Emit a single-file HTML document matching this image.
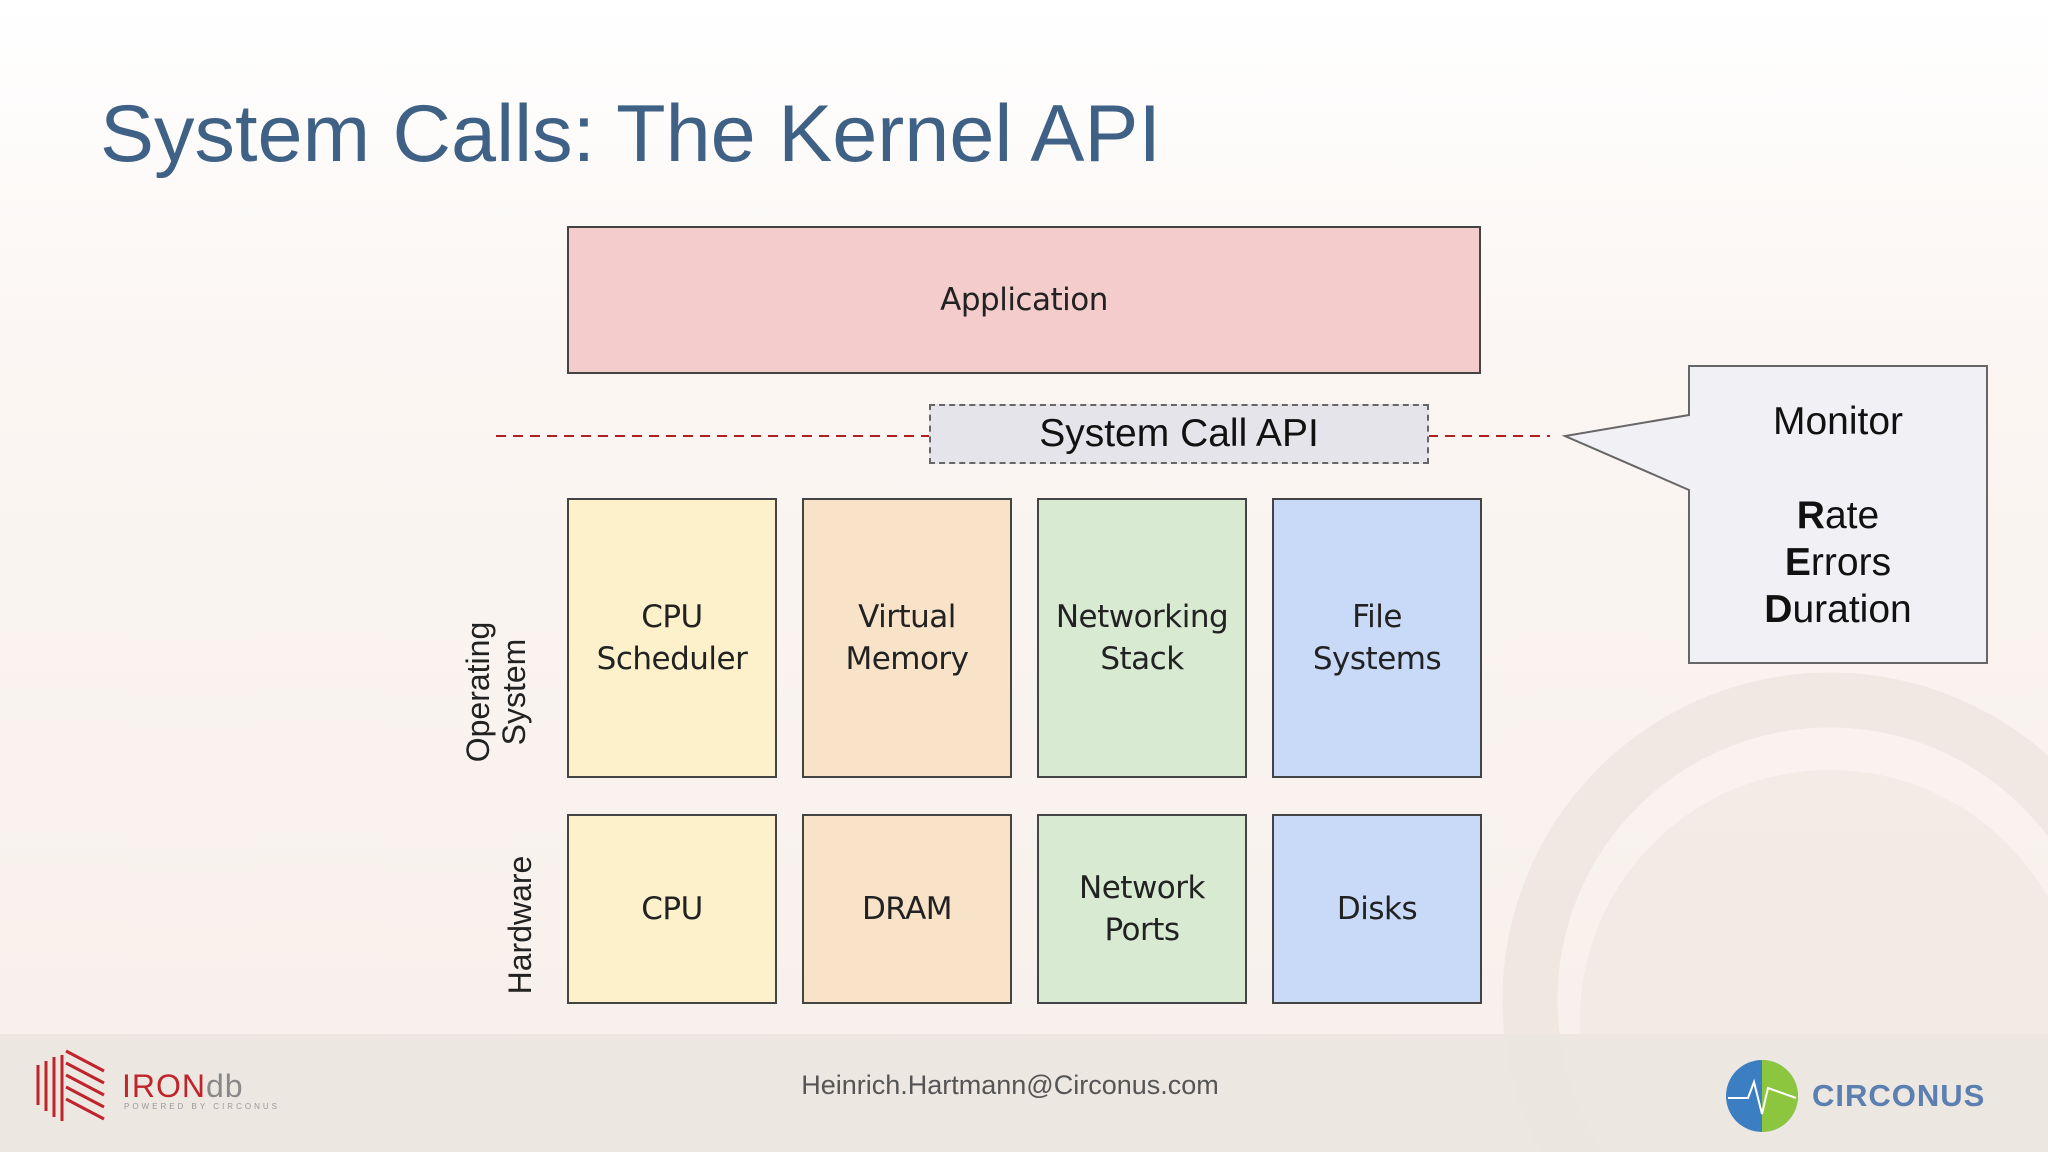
<!DOCTYPE html>
<html><head><meta charset="utf-8"><style>
html,body{margin:0;width:2048px;height:1152px;overflow:hidden}
body{position:relative;font-family:"Liberation Sans",sans-serif;
background:linear-gradient(180deg,#ffffff 0%,#fbf6f3 30%,#f7efea 100%);}
.a{position:absolute;box-sizing:border-box}
.box{border:2px solid #444;display:flex;align-items:center;justify-content:center;text-align:center;font-family:"DejaVu Sans",sans-serif;font-size:31px;color:#222;line-height:42px;letter-spacing:-0.5px}
</style></head><body>
<svg class="a" style="left:0;top:0" width="2048" height="1152">
<g fill="none" stroke="#ede5df" stroke-width="55" opacity="0.8">
<circle cx="1830" cy="1000" r="300"/>
</g>
<circle cx="1830" cy="1020" r="250" fill="#eee6e0" opacity="0.6"/>
<line x1="496" y1="436" x2="929" y2="436" stroke="#b02020" stroke-width="2" stroke-dasharray="10,7"/>
<line x1="1428" y1="436" x2="1550" y2="436" stroke="#b02020" stroke-width="2" stroke-dasharray="10,7"/>
</svg>
<div class="a" style="left:0;top:1034px;width:2048px;height:118px;background:#ebe6e1;opacity:0.92"></div>
<div class="a" style="left:100px;top:88px;font-family:'Liberation Sans',sans-serif;font-size:81px;color:#3f6186;white-space:nowrap">System Calls: The Kernel API</div>
<div class="a box" style="left:567px;top:226px;width:914px;height:148px;background:#f4cccc">Application</div>
<div class="a" style="left:929px;top:404px;width:500px;height:60px;border:2px dashed #666;background:#e4e4ea;display:flex;align-items:center;justify-content:center;font-size:39px;color:#111">System Call API</div>
<div class="a box" style="left:567px;top:498px;width:210px;height:280px;background:#fdf1cc">CPU<br>Scheduler</div>
<div class="a box" style="left:802px;top:498px;width:210px;height:280px;background:#f8e2c8">Virtual<br>Memory</div>
<div class="a box" style="left:1037px;top:498px;width:210px;height:280px;background:#d9ead3">Networking<br>Stack</div>
<div class="a box" style="left:1272px;top:498px;width:210px;height:280px;background:#c9daf8">File<br>Systems</div>
<div class="a box" style="left:567px;top:814px;width:210px;height:190px;background:#fdf1cc">CPU</div>
<div class="a box" style="left:802px;top:814px;width:210px;height:190px;background:#f8e2c8">DRAM</div>
<div class="a box" style="left:1037px;top:814px;width:210px;height:190px;background:#d9ead3">Network<br>Ports</div>
<div class="a box" style="left:1272px;top:814px;width:210px;height:190px;background:#c9daf8">Disks</div>
<div class="a" style="left:400px;top:652px;width:200px;height:80px;transform:rotate(-90deg);text-align:center;font-size:32px;line-height:36px;color:#222">Operating<br>System</div>
<div class="a" style="left:420px;top:905px;width:200px;height:40px;transform:rotate(-90deg);text-align:center;font-size:32px;line-height:40px;color:#222">Hardware</div>
<svg class="a" style="left:0;top:0" width="2048" height="1152">
<path d="M1689 366 H1987 V663 H1689 V490 L1565 436 L1689 415 Z" fill="#f1f1f5" stroke="#666" stroke-width="2"/>
</svg>
<div class="a" style="left:1689px;top:398px;width:298px;text-align:center;font-size:39px;line-height:47px;color:#111">Monitor<br><br><b>R</b>ate<br><b>E</b>rrors<br><b>D</b>uration</div>
<div class="a" style="left:0;top:1070px;width:2020px;text-align:center;font-size:27px;color:#555">Heinrich.Hartmann@Circonus.com</div>
<svg class="a" style="left:36px;top:1045px" width="72" height="80"><g stroke="#c0242b" stroke-width="3">
<line x1="2" y1="20" x2="2" y2="60"/><line x1="10" y1="16" x2="10" y2="66"/><line x1="18" y1="12" x2="18" y2="72"/><line x1="26" y1="10" x2="26" y2="76"/>
<line x1="30" y1="6" x2="68" y2="26"/><line x1="30" y1="18" x2="68" y2="38"/><line x1="30" y1="30" x2="68" y2="50"/><line x1="30" y1="42" x2="68" y2="62"/><line x1="30" y1="54" x2="68" y2="74"/></g></svg>
<div class="a" style="left:122px;top:1068px;font-size:32px;color:#c0242b;letter-spacing:1px">IRON<span style="color:#888">db</span></div>
<div class="a" style="left:124px;top:1102px;font-size:8px;color:#999;letter-spacing:3px">POWERED BY CIRCONUS</div>
<svg class="a" style="left:1724px;top:1058px" width="76" height="76"><circle cx="38" cy="38" r="36" fill="#3b7ec2"/><path d="M38 2 A36 36 0 0 1 38 74 Z" fill="#8cc63f"/><path d="M4 40 L24 40 L30 24 L38 56 L44 30 L72 40" fill="none" stroke="#fff" stroke-width="2"/></svg>
<div class="a" style="left:1812px;top:1078px;font-size:31px;font-weight:bold;color:#5a7fb0;letter-spacing:1px">CIRCONUS</div>
</body></html>
